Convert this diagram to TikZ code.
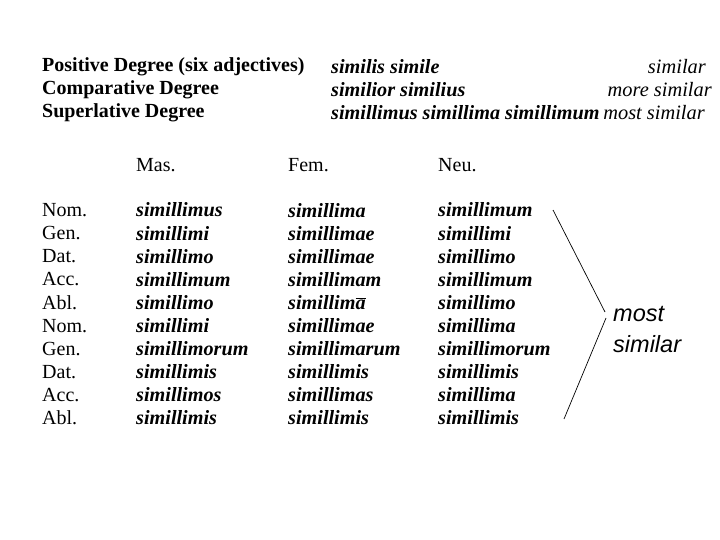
\documentclass[tikz,border=0pt]{standalone}
\usepackage{fontspec}
\setmainfont{Liberation Serif}
\newfontfamily\arialf{Liberation Sans}
\begin{document}
\begin{tikzpicture}[x=1pt,y=-1pt,
  lab/.style={anchor=west,inner sep=0pt,font=\fontsize{20}{20}\selectfont},
  frm/.style={anchor=west,inner sep=0pt,font=\fontsize{20.2}{20}\selectfont\bfseries\itshape},
  hd/.style={anchor=west,inner sep=0pt,font=\fontsize{20}{20}\selectfont\bfseries},
  tr/.style={anchor=east,inner sep=0pt,font=\fontsize{20.4}{20}\selectfont\itshape}]
\useasboundingbox (0,0) rectangle (720,540);
\node[hd] (h1) at (42,67) {Positive Degree (six adjectives)};
\node[hd] (h2) at (42,90) {Comparative Degree};
\node[hd] (h3) at (42,113) {Superlative Degree};
\node[frm] (m1) at (331,67) {similis simile};
\node[frm] (m2) at (331,90) {similior similius};
\node[frm] (m3) at (331,113) {simillimus simillima simillimum};
\node[tr] (r1) at (706,67) {similar};
\node[tr] (r2) at (712,90) {more similar};
\node[tr] (r3) at (705,113) {most similar};
\node[lab] (cm) at (136,165) {Mas.};
\node[lab] (cf) at (288,165) {Fem.};
\node[lab] (cn) at (438,165) {Neu.};
\foreach \c [count=\i] in {Nom.,Gen.,Dat.,Acc.,Abl.,Nom.,Gen.,Dat.,Acc.,Abl.}
  \node[lab] (c\i) at (42,{187+23.1*\i}) {\c};
\foreach \w [count=\i] in {simillimus,simillimi,simillimo,simillimum,simillimo,simillimi,simillimorum,simillimis,simillimos,simillimis}
  \node[frm] (ma\i) at (136,{187+23.1*\i}) {\w};
\foreach \w [count=\i] in {simillima,simillimae,simillimae,simillimam,simillim$\overline{\mbox{a}}$,simillimae,simillimarum,simillimis,simillimas,simillimis}
  \node[frm] (fe\i) at (288,{187+23.1*\i}) {\w};
\foreach \w [count=\i] in {simillimum,simillimi,simillimo,simillimum,simillimo,simillima,simillimorum,simillimis,simillima,simillimis}
  \node[frm] (ne\i) at (438,{187+23.1*\i}) {\w};
\coordinate (a1) at (553,210);
\coordinate (a2) at (605,312);
\coordinate (b1) at (606,318);
\coordinate (b2) at (564,419);
\draw[line width=0.7pt] (a1) -- (a2) (b1) -- (b2);
\node[anchor=west,inner sep=0pt,font=\arialf\fontsize{23.5}{23}\selectfont\itshape] (ms1) at (613,314) {most};
\node[anchor=west,inner sep=0pt,font=\arialf\fontsize{23.5}{23}\selectfont\itshape] (ms2) at (613,344) {similar};
\end{tikzpicture}
\end{document}
